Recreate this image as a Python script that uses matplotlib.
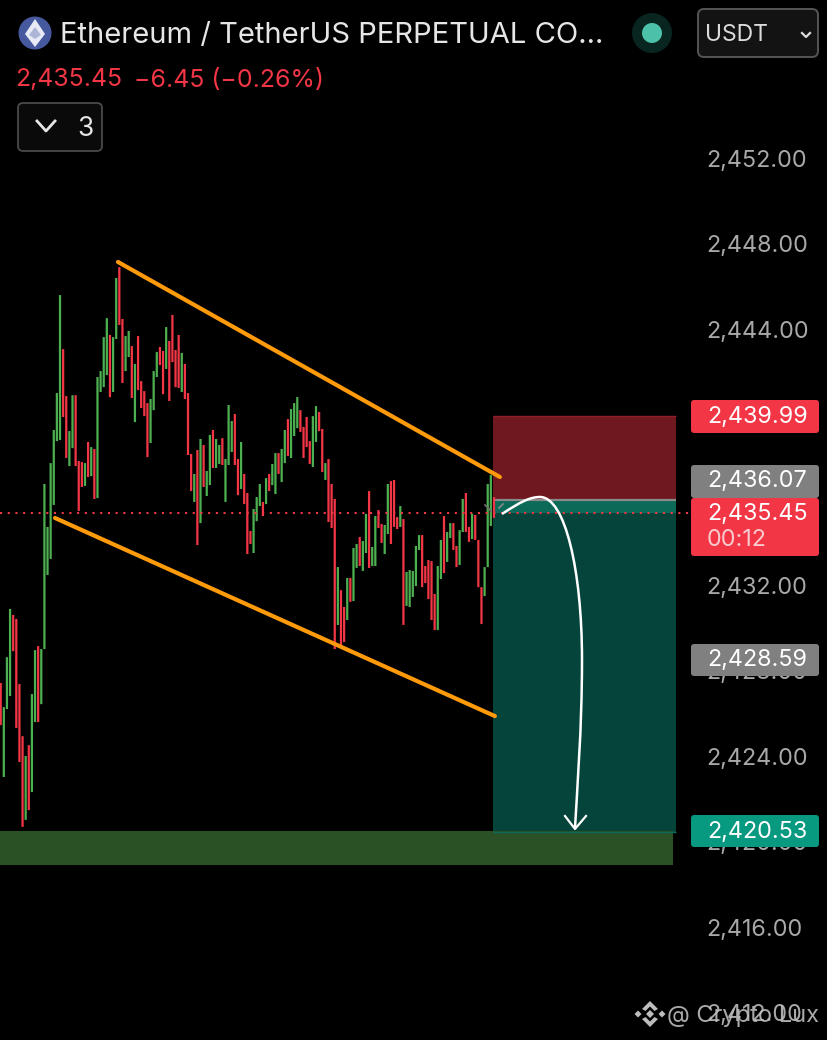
import matplotlib
matplotlib.use("Agg")
import matplotlib.pyplot as plt
from matplotlib.patches import Rectangle, FancyBboxPatch, Circle, Polygon, PathPatch
from matplotlib.path import Path

plt.rcParams['font.family'] = ['Inter', 'DejaVu Sans']

body_high = [2427.41,2426.28,2428.62,2430.88,2430.60,2430.41,2427.36,2424.92,2423.99,2424.50,
2426.89,2428.95,2429.14,2429.00,2436.73,2434.72,2437.71,2439.26,2440.99,2445.58,
2443.05,2440.85,2439.21,2440.89,2440.89,2437.81,2437.76,2437.71,2438.70,2438.46,
2438.37,2441.74,2442.02,2443.61,2444.50,2443.71,2443.61,2446.38,2446.89,2444.46,
2443.66,2443.90,2443.19,2442.35,2443.66,2441.55,2441.08,2440.52,2440.71,2442.02,
2442.91,2443.15,2442.96,2444.08,2443.43,2444.65,2443.01,2443.71,2442.87,2442.35,
2440.99,2438.14,2437.20,2438.32,2438.84,2438.56,2437.34,2439.03,2439.26,2438.84,
2438.56,2438.88,2437.90,2440.43,2439.68,2440.01,2437.90,2438.70,2437.20,2436.31,
2434.53,2435.56,2436.12,2436.73,2435.89,2437.01,2437.20,2437.67,2438.18,2438.18,
2438.37,2439.26,2439.77,2440.24,2440.52,2440.80,2440.19,2439.40,2439.87,2438.74,
2439.91,2440.38,2440.10,2439.31,2437.71,2437.90,2436.73,2436.03,2432.84,2431.76,
2430.97,2432.33,2432.33,2433.73,2433.92,2434.25,2434.06,2435.33,2436.40,2433.78,
2435.23,2435.51,2434.86,2434.81,2436.73,2436.87,2436.92,2435.18,2435.70,2435.09,
2432.61,2432.70,2432.66,2433.83,2434.34,2434.34,2432.89,2433.17,2433.12,2431.58,
2432.89,2434.11,2435.23,2434.48,2434.90,2434.90,2433.83,2434.57,2436.03,2436.31,
2434.72,2435.33,2435.28,2434.11,2431.90,2432.84,2436.73,2437.15,2436.12]

body_low = [2425.44,2423.01,2426.19,2426.80,2428.90,2425.30,2423.71,2420.67,2421.00,2421.46,
2422.30,2425.58,2425.58,2426.42,2429.00,2432.47,2433.22,2435.75,2438.74,2438.79,
2439.87,2437.95,2437.57,2438.41,2437.57,2435.47,2436.59,2436.64,2437.06,2437.10,
2436.03,2436.07,2441.04,2441.27,2441.83,2440.80,2441.04,2443.52,2444.18,2441.46,
2442.02,2442.68,2440.76,2439.63,2441.13,2440.29,2439.91,2437.99,2438.65,2440.19,
2441.74,2442.30,2440.94,2442.12,2440.62,2442.44,2441.27,2441.23,2441.04,2440.71,
2438.09,2436.40,2435.89,2433.87,2434.90,2436.59,2436.17,2436.68,2437.48,2437.48,
2437.67,2437.62,2435.89,2437.62,2438.23,2437.62,2436.21,2436.50,2435.79,2433.45,
2433.92,2433.50,2434.99,2435.70,2435.23,2435.79,2436.40,2436.68,2436.26,2437.20,
2436.82,2437.71,2438.04,2437.95,2438.98,2439.35,2439.17,2437.95,2438.46,2437.67,
2437.53,2438.70,2439.21,2437.29,2436.92,2434.95,2434.67,2429.00,2430.13,2429.14,
2429.33,2430.36,2431.21,2431.25,2432.80,2432.89,2432.66,2433.50,2432.80,2432.89,
2432.89,2434.67,2433.97,2433.45,2434.39,2433.92,2434.72,2434.62,2434.72,2430.13,
2431.02,2430.97,2431.44,2431.95,2433.64,2431.90,2432.09,2431.34,2430.36,2429.89,
2429.89,2432.28,2432.56,2433.08,2434.20,2433.64,2432.84,2432.94,2434.48,2434.48,
2434.02,2434.15,2434.11,2431.90,2430.17,2431.48,2432.84,2434.76,2435.14]

direction = ("rgggrrrrgr" "ggrggggggg" "rrggrrrgrg" "rggggrggrr" "ggrgrrrrgg"
             "grrgrrrrgr" "rrgrgrggrg" "grgggrrgrr" "rgggrgrggr" "ggrgggrrrr"
             "ggrrgrrrgr" "rgrggrggrg" "grrggrrrgr" "gggggrrrrr" "ggrggrrggr"
             "rgrrrgggr")

upper_channel_idx = [37.57, 159.9]
upper_channel_price = [2447.13, 2437.06]
lower_channel_idx = [17.39, 158.3]
lower_channel_price = [2435.14, 2425.86]

tick_prices = [2452, 2448, 2444, 2432, 2428, 2424, 2420, 2416, 2412]
stop_price = 2439.99
entry_price = 2436.07
last_price = 2435.45
mid_price = 2428.59
target_price = 2420.53
drawn_offset = -0.09
zone_high = 2420.48
zone_low = 2418.89

RED = '#f23645'
GREEN = '#4caf50'
TICK = '#a8a8a8'
DY = 2

fig = plt.figure(figsize=(8.28, 10.40), dpi=100, facecolor='black')
ax = fig.add_axes([0, 0, 1, 1], facecolor='black')
ax.set_xlim(-0.224, 265.0)
ax.set_ylim(2410.69, 2459.40)
ax.axis('off')

ui = fig.add_axes([0, 0, 1, 1], facecolor='none')
ui.set_xlim(0, 828)
ui.set_ylim(1040, 0)
ui.axis('off')

# price-range boxes and demand zone
box_l, box_r = 157.7, 216.3
stop_y = stop_price + drawn_offset
entry_y = entry_price + drawn_offset
last_y = last_price + drawn_offset
target_y = target_price + drawn_offset
ax.add_patch(Rectangle((box_l, entry_y), box_r-box_l, stop_y-entry_y, fc='#6f181f', ec='none', zorder=1))
ax.add_patch(Rectangle((box_l, target_y), box_r-box_l, last_y-target_y, fc='#05443a', ec='none', zorder=1))
ax.add_patch(Rectangle((box_l, last_y), box_r-box_l, entry_y-last_y, fc='#0c6a59', ec='none', zorder=1))
ax.plot([box_l, box_r], [entry_y]*2, color='#8a8a8a', lw=1.6, zorder=2, solid_capstyle='butt')
ax.plot([box_l, box_r], [target_y]*2, color='#0c6a59', lw=1, zorder=2, solid_capstyle='butt')
ax.plot([box_l, box_r], [stop_y]*2, color='#8f1f28', lw=1, zorder=2, solid_capstyle='butt')
ax.add_patch(Rectangle((-0.224, zone_low), 215.5, zone_high-zone_low, fc='#2a5125', ec='none', zorder=1))

# candles
idx = list(range(len(body_high)))
heights = [h-l for h, l in zip(body_high, body_low)]
colors = [RED if d == 'r' else GREEN for d in direction]
bars = ax.bar(idx, heights, bottom=body_low, width=0.72, color=colors, linewidth=0, zorder=3)
for b in bars:
    b.set_snap(False)

# last price line
ax.plot([-0.224, 220.8], [last_y]*2, color=RED, lw=1.5, ls=(0, (1.0, 2.7)), zorder=4)

# channel
ax.plot(upper_channel_idx, upper_channel_price, color='#ff9a0a', lw=3.0, zorder=5, solid_capstyle='round')
ax.plot(lower_channel_idx, lower_channel_price, color='#ff9a0a', lw=3.0, zorder=5, solid_capstyle='round')

# small handles
ui.plot([485, 491], [505, 511], color='#707070', lw=1.2, zorder=5)
ui.plot([499, 503], [508, 504], color='#8a8a8a', lw=1.2, zorder=5)

# arrow
verts = [(502, 514), (520, 502), (530, 497), (540, 497),
         (565, 497), (582, 570), (582, 660),
         (582, 730), (577, 790), (575, 828)]
codes = [Path.MOVETO] + [Path.CURVE4]*9
ui.add_patch(PathPatch(Path(verts, codes), fc='none', ec='white', lw=1.8, zorder=6))
ui.plot([565, 575, 586], [816, 829, 816], color='white', lw=1.6, zorder=6)

# tick labels
for p in tick_prices:
    ax.annotate(f"{p:,.2f}", xy=(226.0, p), xytext=(0, -DY - 1), textcoords='offset pixels',
                color=TICK, fontsize=16.8, va='center', ha='left', zorder=2)

# price tags
def tag(y0, y1, color, radius=3):
    ui.add_patch(FancyBboxPatch((691, y0), 128, y1-y0, boxstyle=f"round,pad=0,rounding_size={radius}",
                                fc=color, ec='none', zorder=7))

tag(400, 433, RED)
tag(465, 498, '#808080')
tag(498, 556, RED)
tag(644, 676, '#808080')
tag(815, 847, '#089981')
for y, val in [(416, stop_price), (480, entry_price), (513, last_price), (659, mid_price), (831, target_price)]:
    ui.text(707, y + 1, f"{val:,.2f}", color='white', fontsize=16.8, va='center', ha='left', zorder=8)
ui.text(707, 540, "00:12", color='#f8c9cd', fontsize=16.8, va='center', ha='left', zorder=8)

# header
ui.add_patch(Circle((35, 33), 16.5, fc='#46599f', ec='none'))
ui.add_patch(Polygon([(35, 19), (25, 34), (35, 47), (45, 34)], fc='#e8ebf5', ec='none'))
ui.add_patch(Polygon([(35, 27), (29, 35), (35, 39), (41, 35)], fc='#aeb6d8', ec='none'))
ui.text(60, 33 + DY, "Ethereum / TetherUS PERPETUAL CO...", color='#e6e6e6', fontsize=21.0, va='center', ha='left')
ui.text(15.5, 78 + DY, "2,435.45", color=RED, fontsize=17.9, va='center', ha='left')
ui.text(134, 78 + DY, "\u22126.45 (\u22120.26%)", color=RED, fontsize=17.9, va='center', ha='left')

ui.add_patch(FancyBboxPatch((18, 103), 84, 48, boxstyle="round,pad=0,rounding_size=5", fc='#0a0a0a', ec='#4a4a4a', lw=1.3))
ui.plot([37, 46, 55], [121, 131, 121], color='#e6e6e6', lw=2.0)
ui.text(77, 127 + DY, "3", color='#e6e6e6', fontsize=19, va='center', ha='left')

ui.add_patch(Circle((652, 33), 20, fc='#08251f', ec='none'))
ui.add_patch(Circle((652, 33), 10, fc='#4cc0a8', ec='none'))

ui.add_patch(FancyBboxPatch((698, 9), 120, 48, boxstyle="round,pad=0,rounding_size=6", fc='#131313', ec='#555555', lw=1.4))
ui.text(705, 33 + DY, "USDT", color='#dcdcdc', fontsize=16.5, va='center', ha='left')
ui.plot([802, 806, 810], [33, 37, 33], color='#dcdcdc', lw=1.6)

# watermark
wm = '#bdbdbd'
ui.add_patch(Polygon([(646, 1014), (650, 1010), (654, 1014), (650, 1018)], fc=wm, ec='none'))
for c in [(638, 1014), (662, 1014)]:
    ui.add_patch(Polygon([(c[0]-3.5, c[1]), (c[0], c[1]-3.5), (c[0]+3.5, c[1]), (c[0], c[1]+3.5)], fc=wm, ec='none'))
ui.add_patch(Polygon([(642, 1009), (650, 1001), (658, 1009), (654.5, 1011), (650, 1006.5), (645.5, 1011)], fc=wm, ec='none'))
ui.add_patch(Polygon([(642, 1019), (650, 1027), (658, 1019), (654.5, 1017), (650, 1021.5), (645.5, 1017)], fc=wm, ec='none'))
ui.text(667, 1014 + DY, "@ Crypto Lux", color=wm, fontsize=17, va='center', ha='left', alpha=0.9)

fig.savefig("out.png", dpi=100, facecolor='black')
